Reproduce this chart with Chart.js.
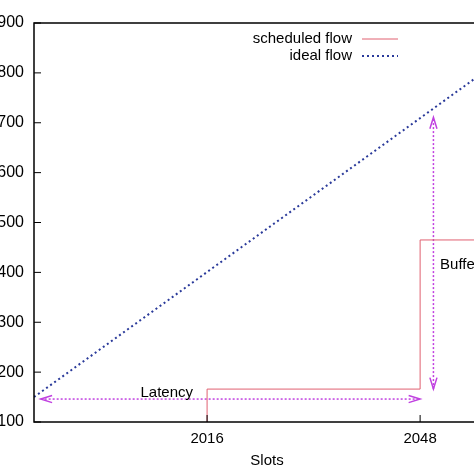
<!DOCTYPE html>
<html><head>
<script src="https://cdn.jsdelivr.net/npm/chart.js@4"></script>
<style>
body{margin:0;overflow:hidden;background:#fff;width:474px;height:474px;position:relative}
#wrap{position:absolute;left:-30px;top:0;width:540px;height:474px}
</style>
</head><body>
<div id="wrap"><canvas id="c"></canvas></div>
<script>
// data
var xTicks = [2016, 2048];
var yTicks = [100, 200, 300, 400, 500, 600, 700, 800, 900];
var idealX = [1990, 2060];
var idealY = [150, 825];
var schedX = [2016, 2016, 2048, 2048, 2060];
var schedY = [100, 166, 166, 465, 465];
var latencyArrow = [[1991, 146], [2048, 146]];
var bufferArrow = [[2050, 166], [2050, 711]];
var labels = [["Latency", 2006, 158], ["Buffer", 2051, 415]];

function pts(xs, ys){ return xs.map(function(x,i){return {x:x,y:ys[i]};}); }
function apts(a){ return a.map(function(p){return {x:p[0],y:p[1]};}); }

var font = '"Liberation Sans", Arial, sans-serif';

var extras = {
  id:'extras',
  afterDraw:function(chart){
    var c = chart.ctx, a = chart.chartArea, xs = chart.scales.x, ys = chart.scales.y;
    c.save();
    // frame
    c.strokeStyle = '#000'; c.lineWidth = 1.5;
    c.strokeRect(a.left, a.top, a.right - a.left, a.bottom - a.top);
    // inward ticks
    c.lineWidth = 1;
    yTicks.forEach(function(v){var y=ys.getPixelForValue(v);c.beginPath();c.moveTo(a.left,y);c.lineTo(a.left+7,y);c.stroke();});
    xTicks.forEach(function(v){var x=xs.getPixelForValue(v);c.beginPath();c.moveTo(x,a.bottom);c.lineTo(x,a.bottom-7);c.stroke();});
    // arrowheads
    c.strokeStyle = '#c040e0'; c.lineWidth = 1.5;
    function head(p, q){
      var x1=xs.getPixelForValue(p[0]),y1=ys.getPixelForValue(p[1]);
      var x2=xs.getPixelForValue(q[0]),y2=ys.getPixelForValue(q[1]);
      var ang=Math.atan2(y2-y1,x2-x1);
      c.beginPath();
      c.moveTo(x2-12*Math.cos(ang-0.3),y2-12*Math.sin(ang-0.3));
      c.lineTo(x2,y2);
      c.lineTo(x2-12*Math.cos(ang+0.3),y2-12*Math.sin(ang+0.3));
      c.stroke();
    }
    [latencyArrow, bufferArrow].forEach(function(ar){ head(ar[1],ar[0]); head(ar[0],ar[1]); });
    // labels
    c.fillStyle = '#000'; c.font = '15px ' + font; c.textBaseline = 'middle';
    labels.forEach(function(l){ c.fillText(l[0], xs.getPixelForValue(l[1]), ys.getPixelForValue(l[2])); });
    // legend
    c.textAlign = 'right';
    c.fillText('scheduled flow', 382, 39);
    c.fillText('ideal flow', 382, 56);
    c.strokeStyle = '#e06070'; c.lineWidth = 1;
    c.beginPath(); c.moveTo(392,39); c.lineTo(428,39); c.stroke();
    c.strokeStyle = '#2a3a9a'; c.lineWidth = 2; c.setLineDash([2,3]);
    c.beginPath(); c.moveTo(392,56); c.lineTo(428,56); c.stroke();
    c.restore();
  }
};

new Chart(document.getElementById('c'), {
  type:'scatter',
  data:{datasets:[
    {label:'scheduled flow', data:pts(schedX, schedY), showLine:true, borderColor:'#e06070', borderWidth:1, pointRadius:0},
    {label:'ideal flow', data:pts(idealX, idealY), showLine:true, borderColor:'#2a3a9a', borderWidth:2, borderDash:[2,3], pointRadius:0},
    {label:'latency', data:apts(latencyArrow), showLine:true, borderColor:'#c040e0', borderWidth:1.5, borderDash:[2,2], pointRadius:0},
    {label:'buffer', data:apts(bufferArrow), showLine:true, borderColor:'#c040e0', borderWidth:1.5, borderDash:[2,2], pointRadius:0}
  ]},
  options:{
    responsive:true, maintainAspectRatio:false, animation:false,
    layout:{padding:{top:23, right:10, left:0, bottom:0}},
    plugins:{legend:{display:false}, tooltip:{enabled:false}},
    scales:{
      x:{type:'linear', min:1990, max:2060,
        afterBuildTicks:function(s){ s.ticks = xTicks.map(function(v){return {value:v};}); },
        afterFit:function(s){ s.height = 52; },
        grid:{display:false, drawTicks:false}, border:{display:false},
        ticks:{color:'#000', font:{size:15, family:font}, padding:8, callback:function(v){return String(v);}},
        title:{display:true, text:'Slots', color:'#000', font:{size:15, family:font}, padding:{top:2}}
      },
      y:{min:100, max:900,
        afterBuildTicks:function(s){ s.ticks = yTicks.map(function(v){return {value:v};}); },
        afterFit:function(s){ s.width = 64; },
        grid:{display:false, drawTicks:false}, border:{display:false},
        ticks:{color:'#000', font:{size:16, family:font}, padding:10}
      }
    }
  },
  plugins:[extras]
});
</script>
</body></html>
